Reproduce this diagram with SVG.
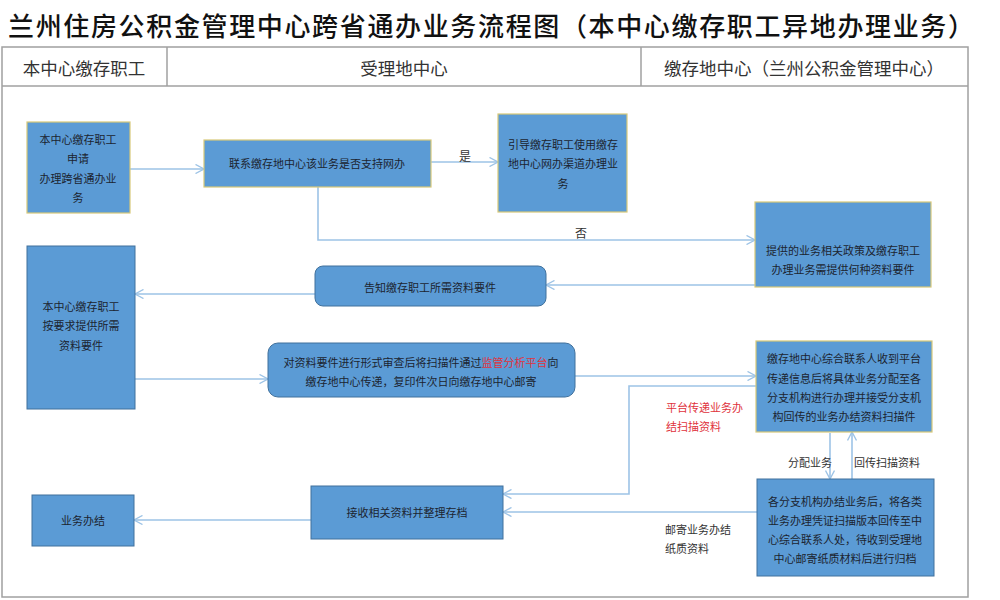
<svg xmlns="http://www.w3.org/2000/svg" width="1000" height="600" viewBox="0 0 1000 600">
<style>
.title{font-family:"Noto Sans CJK SC",sans-serif;font-size:26px;font-weight:500;fill:#111}
.hdr{font-family:"Noto Sans CJK SC",sans-serif;font-size:17.5px;fill:#333;text-anchor:middle;dominant-baseline:central}
.frame{fill:none;stroke:#a0a0a0;stroke-width:1.5}
.n{fill:#5B9BD5;stroke:#D8C878;stroke-width:1.2}
.nb{fill:#5B9BD5;stroke:#41719C;stroke-width:1}
.t{font-family:"Noto Sans CJK SC",sans-serif;font-size:11px;fill:#1b2430;text-anchor:middle;dominant-baseline:central}
.red{fill:#e0323c}
.lbl{font-family:"Noto Sans CJK SC",sans-serif;font-size:11px;fill:#333;dominant-baseline:central}
.lblr{font-family:"Noto Sans CJK SC",sans-serif;font-size:11px;fill:#e0323c;dominant-baseline:central}
.c{fill:none;stroke:#9DC3E6;stroke-width:1.6}
</style>
<defs>
<marker id="ah" viewBox="0 0 10 10" refX="9.5" refY="5" markerWidth="10" markerHeight="10" markerUnits="userSpaceOnUse" orient="auto">
<path d="M1,0.5 L9.5,5 L1,9.5" fill="none" stroke="#9DC3E6" stroke-width="1.4"/>
</marker>
</defs>
<rect width="1000" height="600" fill="#fff"/>
<text class="title" x="8" y="24" textLength="966" lengthAdjust="spacing" dominant-baseline="central">兰州住房公积金管理中心跨省通办业务流程图（本中心缴存职工异地办理业务）</text>
<g id="frame">
<rect class="frame" x="2" y="47" width="966" height="550"/>
<line class="frame" x1="2" y1="86" x2="968" y2="86"/>
<line class="frame" x1="167" y1="47" x2="167" y2="86"/>
<line class="frame" x1="641" y1="47" x2="641" y2="86"/>
<text class="hdr" x="84" y="67">本中心缴存职工</text>
<text class="hdr" x="404" y="67">受理地中心</text>
<text class="hdr" x="804" y="67">缴存地中心（兰州公积金管理中心）</text>
</g>
<g id="connectors">
<polyline class="c" points="130,169 204,169" marker-end="url(#ah)"/>
<polyline class="c" points="431,162 498,162" marker-end="url(#ah)"/>
<polyline class="c" points="318,187 318,240 755,240" marker-end="url(#ah)"/>
<polyline class="c" points="755,285 546,285" marker-end="url(#ah)"/>
<polyline class="c" points="315,294 135,294" marker-end="url(#ah)"/>
<polyline class="c" points="135,379 268,379" marker-end="url(#ah)"/>
<polyline class="c" points="575,376 756,376" marker-end="url(#ah)"/>
<polyline class="c" points="756,386 629,386 629,494 503,494" marker-end="url(#ah)"/>
<polyline class="c" points="757,512 503,512" marker-end="url(#ah)"/>
<polyline class="c" points="311,520 134,520" marker-end="url(#ah)"/>
<polyline class="c" points="830,433 830,479" marker-end="url(#ah)"/>
<polyline class="c" points="852,479 852,432" marker-end="url(#ah)"/>
<text class="lbl" x="459" y="155" style="font-size:12px">是</text>
<text class="lbl" x="575" y="232" style="font-size:12px">否</text>
<text class="lblr" x="666" y="407">平台传递业务办</text>
<text class="lblr" x="666" y="426">结扫描资料</text>
<text class="lbl" x="788" y="462">分配业务</text>
<text class="lbl" x="854" y="462">回传扫描资料</text>
<text class="lbl" x="665" y="529">邮寄业务办结</text>
<text class="lbl" x="665" y="548">纸质资料</text>
</g>
<g id="n1">
<rect class="n" x="27" y="122" width="103" height="91"/>
<text class="t" x="78" y="139">本中心缴存职工</text>
<text class="t" x="78" y="158">申请</text>
<text class="t" x="78" y="178">办理跨省通办业</text>
<text class="t" x="78" y="197">务</text>
</g>
<g id="n2">
<rect class="n" x="204" y="140" width="227" height="47"/>
<text class="t" x="317" y="163">联系缴存地中心该业务是否支持网办</text>
</g>
<g id="n3">
<rect class="n" x="498" y="114" width="129" height="98"/>
<text class="t" x="563" y="144">引导缴存职工使用缴存</text>
<text class="t" x="563" y="163">地中心网办渠道办理业</text>
<text class="t" x="563" y="183">务</text>
</g>
<g id="n4">
<rect class="n" x="755" y="202" width="176" height="85"/>
<text class="t" x="843" y="250">提供的业务相关政策及缴存职工</text>
<text class="t" x="843" y="269">办理业务需提供何种资料要件</text>
</g>
<g id="n5">
<rect class="nb" x="315" y="266" width="231" height="40" rx="8"/>
<text class="t" x="430" y="287">告知缴存职工所需资料要件</text>
</g>
<g id="n6">
<rect class="nb" x="27" y="246" width="108" height="163"/>
<text class="t" x="81" y="306">本中心缴存职工</text>
<text class="t" x="81" y="325">按要求提供所需</text>
<text class="t" x="81" y="345">资料要件</text>
</g>
<g id="n7">
<rect class="nb" x="268" y="343" width="307" height="54" rx="10"/>
<text class="t" x="421" y="362">对资料要件进行形式审查后将扫描件通过<tspan class="red">监管分析平台</tspan>向</text>
<text class="t" x="421" y="381">缴存地中心传递，复印件次日向缴存地中心邮寄</text>
</g>
<g id="n8">
<rect class="n" x="756" y="341" width="176" height="91"/>
<text class="t" x="844" y="358">缴存地中心综合联系人收到平台</text>
<text class="t" x="844" y="378">传递信息后将具体业务分配至各</text>
<text class="t" x="844" y="397">分支机构进行办理并接受分支机</text>
<text class="t" x="844" y="416">构回传的业务办结资料扫描件</text>
</g>
<g id="n9">
<rect class="nb" x="311" y="486" width="192" height="53"/>
<text class="t" x="407" y="512">接收相关资料并整理存档</text>
</g>
<g id="n10">
<rect class="nb" x="757" y="479" width="177" height="97"/>
<text class="t" x="845" y="501">各分支机构办结业务后，将各类</text>
<text class="t" x="845" y="520">业务办理凭证扫描版本回传至中</text>
<text class="t" x="845" y="539">心综合联系人处，待收到受理地</text>
<text class="t" x="845" y="558">中心邮寄纸质材料后进行归档</text>
</g>
<g id="n11">
<rect class="nb" x="32" y="495" width="102" height="51"/>
<text class="t" x="83" y="520">业务办结</text>
</g>
</svg>
